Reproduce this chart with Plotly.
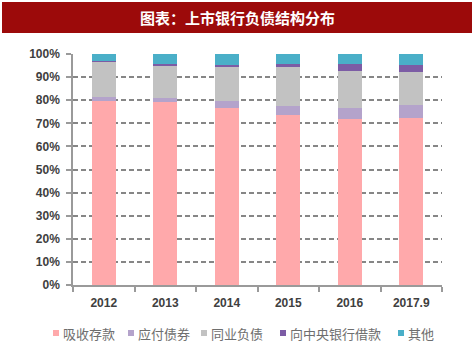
import plotly.graph_objects as go

# Liability structure of listed banks (share of total liabilities)
years = ["2012", "2013", "2014", "2015", "2016", "2017.9"]
deposits = [79.7, 79.1, 76.8, 73.6, 71.7, 72.4]        # 吸收存款
bonds = [1.8, 1.7, 2.9, 4.0, 4.8, 5.5]                 # 应付债券
interbank = [15.2, 14.4, 14.8, 16.9, 16.1, 14.2]       # 同业负债
central_bank = [0.3, 0.3, 0.7, 1.2, 3.1, 3.1]          # 向中央银行借款
other = [3.0, 4.5, 4.8, 4.3, 4.3, 4.8]                 # 其他

series = [
    ("吸收存款", deposits, "#FFA9AB"),
    ("应付债券", bonds, "#B4A3CB"),
    ("同业负债", interbank, "#C2C2C2"),
    ("向中央银行借款", central_bank, "#7C5CA5"),
    ("其他", other, "#4AAFC8"),
]
# left edge of each legend key (pixels)
key_x = [53, 128, 201, 280, 398]

W, H = 474, 349
L, R, T, B = 73, 442, 54, 285  # plot area in pixels
LEGEND_Y = 333


def px(x):
    return (x - L) / (R - L)


def py(y):
    return (B - y) / (B - T)


fig = go.Figure()
for name, vals, color in series:
    fig.add_trace(go.Bar(
        x=years, y=[v / 100 for v in vals], name=name,
        marker=dict(color=color, line=dict(width=0)),
    ))

shapes = [dict(
    type="rect", xref="paper", yref="paper",
    x0=px(2), x1=px(472), y0=py(33), y1=py(2),
    fillcolor="#9C0A0A", line=dict(width=0), layer="below",
)]
annotations = [dict(
    text="<b>图表：上市银行负债结构分布</b>", xref="paper", yref="paper",
    x=px(237), y=py(17.5), xanchor="center", yanchor="middle",
    showarrow=False,
    font=dict(family="Noto Sans CJK SC", size=15, color="white"),
)]

# legend row: small colour key followed by its label
for (name, vals, color), kx in zip(series, key_x):
    shapes.append(dict(
        type="rect", xref="paper", yref="paper",
        x0=px(kx), x1=px(kx + 6), y0=py(LEGEND_Y + 3), y1=py(LEGEND_Y - 3),
        fillcolor=color, line=dict(width=0),
    ))
    annotations.append(dict(
        text=name, xref="paper", yref="paper",
        x=px(kx + 8), y=py(LEGEND_Y), xanchor="left", yanchor="middle",
        showarrow=False,
        font=dict(family="Noto Sans CJK SC", size=13, color="#6e6e6e"),
    ))

fig.update_layout(
    width=W, height=H,
    margin=dict(l=L, r=W - R, t=T, b=H - B, autoexpand=False),
    paper_bgcolor="white", plot_bgcolor="white",
    barmode="stack", bargap=0.61, showlegend=False,
    font=dict(family="Liberation Sans, Arial, sans-serif", color="#404040"),
    shapes=shapes, annotations=annotations,
)

fig.update_yaxes(
    range=[0, 1], dtick=0.1, tickformat=".0%",
    showgrid=True, gridcolor="#868686", griddash="5px,3px", gridwidth=1.6,
    showline=True, linecolor="#9a9a9a", linewidth=1.5,
    ticks="outside", ticklen=5, tickcolor="#9a9a9a", tickwidth=1.5,
    tickfont=dict(size=12, family="Liberation Sans", weight="bold", color="#404040"),
    zeroline=False, ticklabelstandoff=4,
)
fig.update_xaxes(
    showline=True, linecolor="#9a9a9a", linewidth=1.5,
    ticks="outside", ticklen=5, tickcolor="#9a9a9a", tickwidth=1.5,
    tickson="boundaries",
    tickfont=dict(size=12, family="Liberation Sans", weight="bold", color="#404040"),
    ticklabelstandoff=6,
)

fig.write_html("out.html")
